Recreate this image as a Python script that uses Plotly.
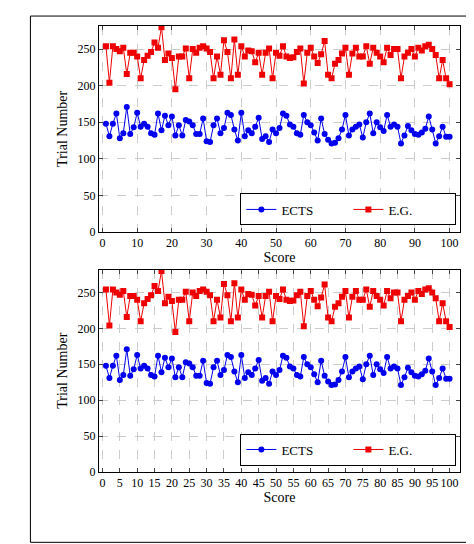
import plotly.graph_objects as go
from plotly.subplots import make_subplots

score = list(range(1, 101))
ects = [148, 131, 148, 162, 128, 135, 171, 134, 143, 163, 144, 148, 144, 135, 133, 162, 139, 159, 146, 158,
        132, 146, 132, 153, 151, 146, 134, 134, 155, 124, 123, 146, 155, 135, 142, 163, 160, 140, 125, 163,
        131, 139, 135, 144, 156, 127, 131, 123, 140, 135, 142, 162, 159, 147, 144, 135, 133, 160, 150, 146,
        136, 125, 155, 134, 126, 121, 122, 128, 140, 160, 132, 140, 144, 147, 129, 150, 162, 135, 150, 143,
        138, 160, 144, 147, 144, 121, 132, 145, 139, 134, 133, 136, 141, 158, 140, 121, 131, 144, 130, 130]
eg = [254, 204, 254, 250, 247, 252, 216, 245, 245, 240, 210, 235, 241, 246, 259, 252, 280, 235, 244, 238,
      195, 240, 240, 251, 210, 250, 245, 252, 254, 251, 246, 210, 240, 215, 262, 246, 210, 263, 215, 254,
      240, 248, 247, 232, 245, 215, 245, 251, 210, 245, 241, 254, 240, 238, 239, 246, 251, 203, 245, 252,
      240, 231, 243, 261, 215, 210, 230, 235, 244, 252, 215, 244, 252, 240, 240, 254, 230, 252, 245, 240,
      232, 252, 242, 250, 250, 210, 240, 245, 250, 240, 252, 248, 254, 256, 250, 242, 210, 235, 210, 202]

fig = make_subplots(rows=2, cols=1)
for row, leg in [(1, "legend"), (2, "legend2")]:
    fig.add_trace(go.Scatter(x=score, y=ects, name="ECTS", mode="lines+markers",
                             line=dict(color="#0000ee", width=1), marker=dict(size=6, symbol="circle"),
                             legend=leg), row=row, col=1)
    fig.add_trace(go.Scatter(x=score, y=eg, name="E.G.", mode="lines+markers",
                             line=dict(color="#ee0000", width=1), marker=dict(size=6, symbol="square"),
                             legend=leg), row=row, col=1)

font = dict(family="Liberation Serif, DejaVu Serif, serif", size=12, color="black")
axis = dict(showline=True, mirror="ticks", linecolor="black", linewidth=1, ticks="inside",
            ticklen=4, gridcolor="#cccccc", griddash="dash", zeroline=False)
fig.update_xaxes(axis, range=[-1, 103], title=dict(text="Score", standoff=2))
fig.update_yaxes(axis, range=[0, 282], tickvals=[0, 50, 100, 150, 200, 250],
                 title=dict(text="Trial Number", standoff=6))
fig.update_xaxes(tickvals=list(range(0, 101, 10)), row=1, col=1)
fig.update_xaxes(tickvals=list(range(0, 101, 5)), row=2, col=1)
leg_style = dict(orientation="h", x=0.99, xanchor="right", yanchor="bottom",
                 bordercolor="black", borderwidth=1, bgcolor="white", itemwidth=30,
                 entrywidth=62, font=dict(size=13))
fig.update_layout(
    width=474, height=544, font=font, plot_bgcolor="white", paper_bgcolor="white",
    margin=dict(l=91, r=22, t=0, b=0),
    xaxis=dict(domain=[0, 1]), yaxis=dict(domain=[0.583, 0.967]),
    xaxis2=dict(domain=[0, 1]), yaxis2=dict(domain=[0.136, 0.513]),
    legend=dict(leg_style, y=0.595),
    legend2=dict(leg_style, y=0.148),
    shapes=[dict(type="rect", xref="paper", yref="paper", x0=-0.19, x1=1.04, y0=0.005, y1=0.985,
                 line=dict(color="black", width=1))],
)
fig.write_html("out.html")
